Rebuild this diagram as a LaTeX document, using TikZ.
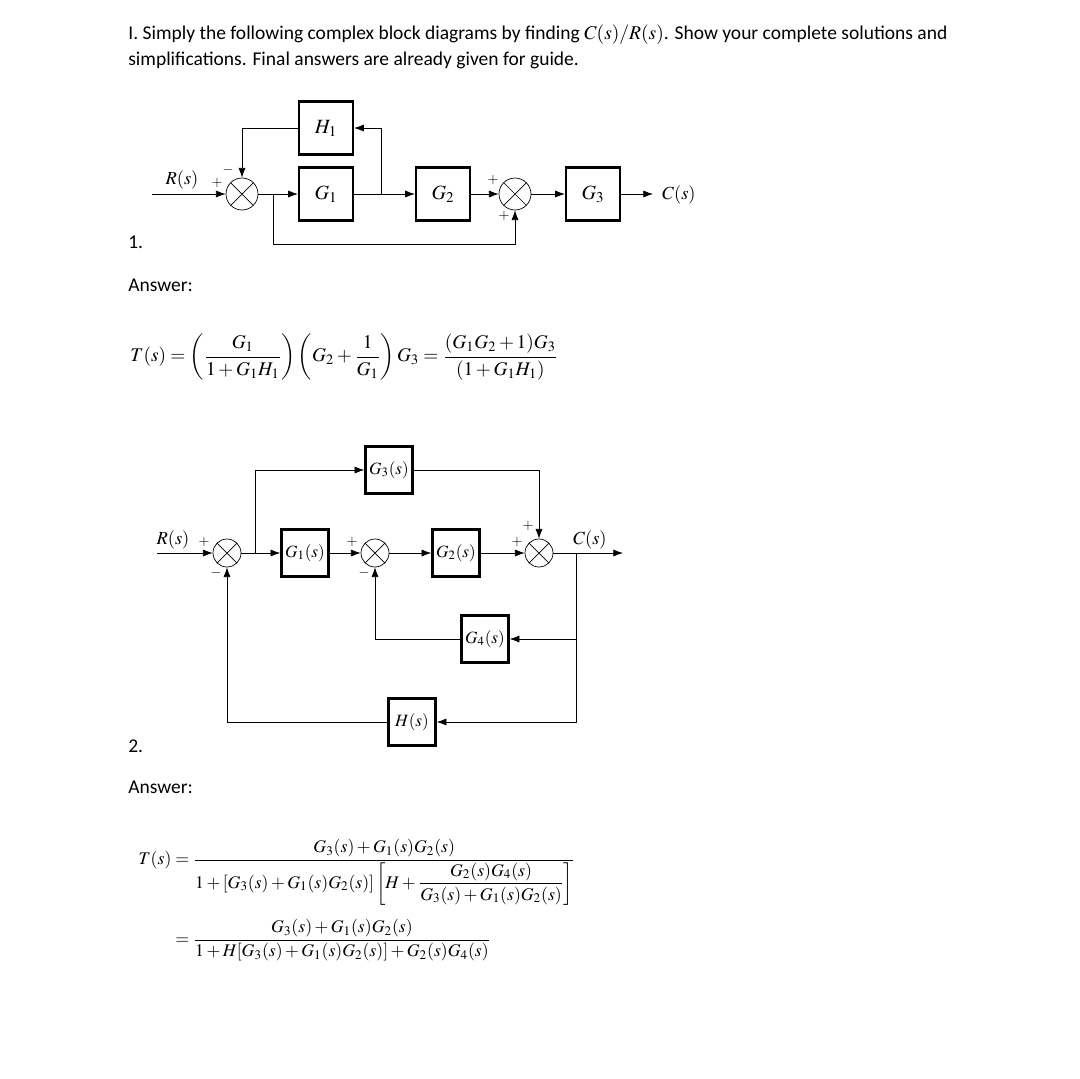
\documentclass[tikz,border=0pt]{standalone}
\usepackage{amsmath}
\usepackage{mathptmx}
\usepackage[no-math]{fontspec}
\setmainfont{Carlito}
\usetikzlibrary{arrows.meta}

\begin{document}
\begin{tikzpicture}[>={Latex[length=5.5pt,width=4pt]}, x=0.02cm, y=-0.02cm,
  blk/.style={draw, line width=1.3pt, minimum width=1.08cm, minimum height=1.06cm, inner sep=0pt, font=\fontsize{11.5}{12}\selectfont},
  blkb/.style={draw, line width=1.4pt, minimum size=0.94cm, inner sep=0pt, font=\fontsize{9.8}{10}\selectfont},
  sumnode/.style={draw, circle, minimum size=#1, inner sep=0pt,
    path picture={\draw (path picture bounding box.north west) -- (path picture bounding box.south east)
      (path picture bounding box.south west) -- (path picture bounding box.north east);}},
  sgn/.style={inner sep=0pt, font=\fontsize{8}{8}\selectfont},
  lbl/.style={inner sep=0pt, font=\fontsize{10.5}{11}\selectfont},
  txt/.style={anchor=west, inner sep=0pt, font=\fontsize{11.1}{14.6}\selectfont}]
  \fill [white] (0,0) rectangle (1080,1079);
  \useasboundingbox (0,0) rectangle (1080,1079);

  % question text
  \node [txt, align=left, anchor=north west] (title) at (128,25) {I. Simply the following complex block diagrams by finding $C(s)/R(s)$. Show your complete solutions and\\ simplifications. Final answers are already given for guide.};
  \node [txt] (num1) at (128,242) {1.};
  \node [txt] (ans1) at (128,285) {Answer:};
  \node [txt] (num2) at (128,746) {2.};
  \node [txt] (ans2) at (128,787) {Answer:};

  % diagram 1
  \coordinate (in1) at (152,194);
  \node [sumnode=0.64cm] (s1) at (242,194) {};
  \node [blk] (h1) at (326,128) {$H_1$};
  \node [blk] (g1) at (326,194) {$G_1$};
  \node [blk] (g2) at (443,194) {$G_2$};
  \node [sumnode=0.64cm] (s2) at (515,194) {};
  \node [blk] (g3) at (593,194) {$G_3$};
  \coordinate (out1) at (653,194);
  \coordinate (b1) at (273,194);
  \coordinate (b2) at (381,194);
  \coordinate (c1) at (273,244);
  \draw [->] (in1) -- (s1);
  \draw [->] (s1) -- (g1);
  \draw [->] (g1) -- (g2);
  \draw [->] (b2) |- (h1);
  \draw [->] (h1) -| (s1);
  \draw [->] (b1) -- (c1) -| (s2);
  \draw [->] (g2) -- (s2);
  \draw [->] (s2) -- (g3);
  \draw [->] (g3) -- (out1);
  \node [lbl] (r1) at (182,180) {$R(s)$};
  \node [lbl, anchor=west] (c1lbl) at (662,195) {$C(s)$};
  \node [sgn] at (217,183) {$+$};
  \node [sgn] at (228,170) {$-$};
  \node [sgn] at (493,180) {$+$};
  \node [sgn] at (504,216) {$+$};

  \node [anchor=west, inner sep=0pt, font=\fontsize{11}{12}\selectfont] (eq1) at (130,357)
    {$T(s)=\left(\dfrac{G_1}{1+G_1H_1}\right)\left(G_2+\dfrac{1}{G_1}\right)G_3=\dfrac{(G_1G_2+1)G_3}{(1+G_1H_1)}$};

  % diagram 2
  \coordinate (in2) at (157,553);
  \node [sumnode=0.56cm] (sa) at (227,553) {};
  \node [blkb] (g3b) at (389,470) {$G_3(s)$};
  \node [blkb] (g1b) at (305,553) {$G_1(s)$};
  \node [sumnode=0.56cm] (sb) at (375,553) {};
  \node [blkb] (g2b) at (456,553) {$G_2(s)$};
  \node [sumnode=0.56cm] (sc) at (539,553) {};
  \node [blkb] (g4b) at (485,639) {$G_4(s)$};
  \node [blkb] (hb) at (412,722) {$H(s)$};
  \coordinate (out2) at (623,553);
  \coordinate (ba) at (255,553);
  \coordinate (bc) at (576,553);
  \draw [->] (in2) -- (sa);
  \draw [->] (sa) -- (g1b);
  \draw [->] (ba) |- (g3b);
  \draw [->] (g1b) -- (sb);
  \draw [->] (sb) -- (g2b);
  \draw [->] (g2b) -- (sc);
  \draw [->] (g3b) -| (sc);
  \draw [->] (sc) -- (out2);
  \draw [->] (bc) |- (g4b);
  \draw [->] (bc) |- (hb);
  \draw [->] (g4b) -| (sb);
  \draw [->] (hb) -| (sa);
  \node [lbl] (r2) at (173,540) {$R(s)$};
  \node [lbl] (c2lbl) at (590,540) {$C(s)$};
  \node [sgn] at (204,542) {$+$};
  \node [sgn] at (216,573) {$-$};
  \node [sgn] at (352,542) {$+$};
  \node [sgn] at (364,573) {$-$};
  \node [sgn] at (517,542) {$+$};
  \node [sgn] at (528,526) {$+$};

  \node [inner sep=0pt, font=\fontsize{10.1}{12}\selectfont] (eq2) at (357,900)
    {$\begin{aligned}
      T(s)&=\frac{G_3(s)+G_1(s)G_2(s)}{1+[G_3(s)+G_1(s)G_2(s)]\left[H+\dfrac{G_2(s)G_4(s)}{G_3(s)+G_1(s)G_2(s)}\right]}\\[4pt]
      &=\frac{G_3(s)+G_1(s)G_2(s)}{1+H[G_3(s)+G_1(s)G_2(s)]+G_2(s)G_4(s)}
    \end{aligned}$};
\end{tikzpicture}
\end{document}
